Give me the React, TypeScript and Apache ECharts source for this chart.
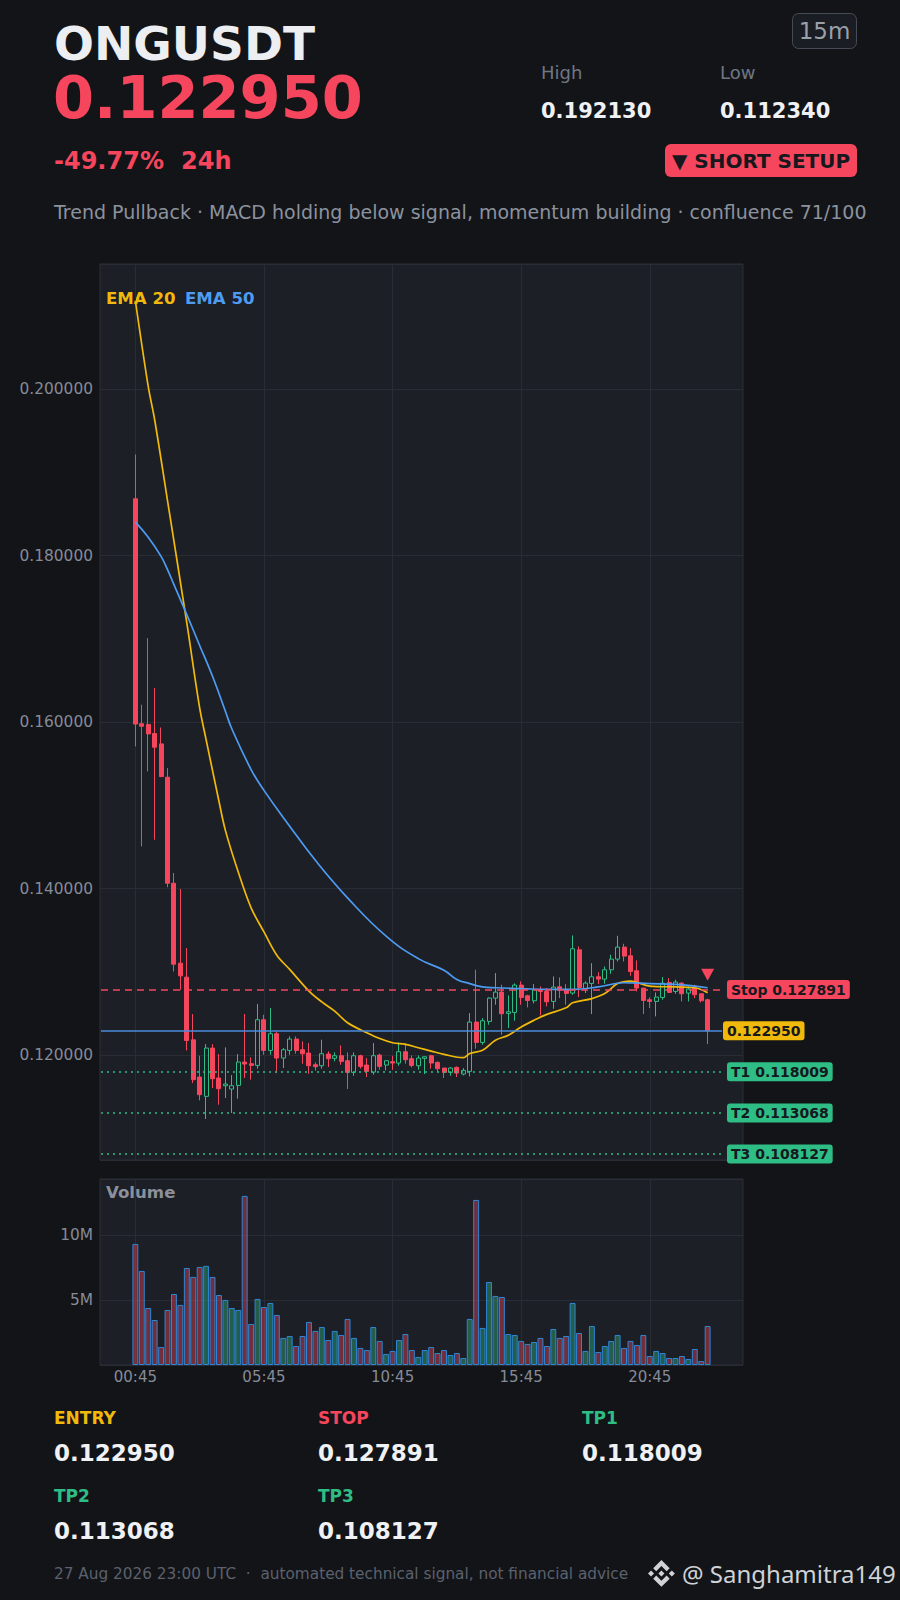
import React, { useEffect, useRef } from 'react';
import * as echarts from 'echarts';

// ---------- data ----------
const SYMBOL = 'ONGUSDT';
const LAST_PRICE = '0.122950';
const CHANGE_24H = '-49.77%';
const HIGH_24H = '0.192130';
const LOW_24H = '0.112340';
const TIMEFRAME = '15m';
const DESCRIPTION = 'Trend Pullback · MACD holding below signal, momentum building · confluence 71/100';

const TIMES = [
  '00:45',
  '01:00', '01:15', '01:30', '01:45', '02:00', '02:15', '02:30', '02:45',
  '03:00', '03:15', '03:30', '03:45', '04:00', '04:15', '04:30', '04:45',
  '05:00', '05:15', '05:30', '05:45', '06:00', '06:15', '06:30', '06:45',
  '07:00', '07:15', '07:30', '07:45', '08:00', '08:15', '08:30', '08:45',
  '09:00', '09:15', '09:30', '09:45', '10:00', '10:15', '10:30', '10:45',
  '11:00', '11:15', '11:30', '11:45', '12:00', '12:15', '12:30', '12:45',
  '13:00', '13:15', '13:30', '13:45', '14:00', '14:15', '14:30', '14:45',
  '15:00', '15:15', '15:30', '15:45', '16:00', '16:15', '16:30', '16:45',
  '17:00', '17:15', '17:30', '17:45', '18:00', '18:15', '18:30', '18:45',
  '19:00', '19:15', '19:30', '19:45', '20:00', '20:15', '20:30', '20:45',
  '21:00', '21:15', '21:30', '21:45', '22:00', '22:15', '22:30', '22:45',
  '23:00',
];

// [open, close, low, high]
const CANDLES: number[][] = [
  [0.18681, 0.15976, 0.15707, 0.19213],
  [0.15980, 0.15950, 0.14507, 0.16208],
  [0.15970, 0.15858, 0.15407, 0.17008],
  [0.15862, 0.15698, 0.14587, 0.16408],
  [0.15738, 0.15346, 0.15338, 0.15935],
  [0.15338, 0.14065, 0.14017, 0.15447],
  [0.14065, 0.13093, 0.13005, 0.14187],
  [0.13105, 0.12953, 0.12786, 0.13995],
  [0.12937, 0.12177, 0.12058, 0.13287],
  [0.12185, 0.11706, 0.11666, 0.12494],
  [0.11738, 0.11526, 0.11458, 0.11994],
  [0.11506, 0.12086, 0.11234, 0.12134],
  [0.12086, 0.11718, 0.11606, 0.12134],
  [0.11726, 0.11598, 0.11406, 0.12014],
  [0.11634, 0.11654, 0.11486, 0.12094],
  [0.11594, 0.11634, 0.11306, 0.11762],
  [0.11638, 0.11918, 0.11478, 0.12014],
  [0.11918, 0.11894, 0.11726, 0.12494],
  [0.11898, 0.11878, 0.11706, 0.11974],
  [0.11878, 0.12426, 0.11838, 0.12614],
  [0.12426, 0.12058, 0.12006, 0.12486],
  [0.12058, 0.12258, 0.12006, 0.12566],
  [0.12258, 0.11966, 0.11786, 0.12286],
  [0.11966, 0.12066, 0.11846, 0.12086],
  [0.12058, 0.12194, 0.12006, 0.12226],
  [0.12194, 0.12058, 0.12018, 0.12226],
  [0.12066, 0.12018, 0.11898, 0.12166],
  [0.12026, 0.11874, 0.11778, 0.12146],
  [0.11886, 0.11862, 0.11814, 0.11914],
  [0.11874, 0.12018, 0.11838, 0.12186],
  [0.12014, 0.11958, 0.11858, 0.12046],
  [0.11962, 0.11994, 0.11926, 0.12034],
  [0.11994, 0.11926, 0.11886, 0.12118],
  [0.11934, 0.11794, 0.11594, 0.12034],
  [0.11794, 0.11994, 0.11754, 0.12034],
  [0.11994, 0.11866, 0.11838, 0.12006],
  [0.11882, 0.11806, 0.11738, 0.11966],
  [0.11798, 0.11994, 0.11766, 0.12146],
  [0.12002, 0.11866, 0.11826, 0.12018],
  [0.11882, 0.11934, 0.11818, 0.11934],
  [0.11922, 0.11906, 0.11826, 0.11994],
  [0.11906, 0.12042, 0.11874, 0.12154],
  [0.12042, 0.11946, 0.11898, 0.12146],
  [0.11958, 0.11878, 0.11854, 0.11998],
  [0.11874, 0.11966, 0.11826, 0.11998],
  [0.11962, 0.11982, 0.11774, 0.11986],
  [0.11994, 0.11906, 0.11838, 0.12006],
  [0.11914, 0.11838, 0.11794, 0.11926],
  [0.11846, 0.11794, 0.11726, 0.11846],
  [0.11794, 0.11846, 0.11754, 0.11858],
  [0.11854, 0.11786, 0.11738, 0.11866],
  [0.11774, 0.11818, 0.11758, 0.11846],
  [0.11806, 0.12398, 0.11746, 0.12506],
  [0.12398, 0.12154, 0.12078, 0.13026],
  [0.12154, 0.12414, 0.12126, 0.12446],
  [0.12406, 0.12686, 0.12366, 0.12694],
  [0.12686, 0.12758, 0.12606, 0.12986],
  [0.12758, 0.12498, 0.12246, 0.12846],
  [0.12502, 0.12522, 0.12326, 0.12718],
  [0.12514, 0.12842, 0.12414, 0.12862],
  [0.12842, 0.12694, 0.12606, 0.12886],
  [0.12714, 0.12658, 0.12574, 0.12726],
  [0.12654, 0.12786, 0.12622, 0.12854],
  [0.12790, 0.12766, 0.12478, 0.12826],
  [0.12766, 0.12642, 0.12586, 0.12806],
  [0.12646, 0.12818, 0.12558, 0.12946],
  [0.12822, 0.12786, 0.12686, 0.12934],
  [0.12782, 0.12742, 0.12606, 0.12854],
  [0.12746, 0.13278, 0.12726, 0.13438],
  [0.13266, 0.12814, 0.12698, 0.13306],
  [0.12798, 0.12866, 0.12746, 0.12886],
  [0.12862, 0.12942, 0.12494, 0.13106],
  [0.12942, 0.12914, 0.12854, 0.12996],
  [0.12914, 0.13026, 0.12858, 0.13066],
  [0.13026, 0.13154, 0.12978, 0.13206],
  [0.13154, 0.13298, 0.13126, 0.13434],
  [0.13298, 0.13190, 0.13126, 0.13338],
  [0.13194, 0.13006, 0.12954, 0.13286],
  [0.13014, 0.12806, 0.12766, 0.13138],
  [0.12806, 0.12658, 0.12494, 0.12806],
  [0.12666, 0.12646, 0.12566, 0.12694],
  [0.12646, 0.12698, 0.12466, 0.12754],
  [0.12694, 0.12866, 0.12666, 0.12938],
  [0.12874, 0.12754, 0.12746, 0.12926],
  [0.12766, 0.12878, 0.12738, 0.12906],
  [0.12866, 0.12738, 0.12646, 0.12874],
  [0.12746, 0.12794, 0.12646, 0.12826],
  [0.12806, 0.12726, 0.12686, 0.12846],
  [0.12738, 0.12654, 0.12634, 0.12738],
  [0.12666, 0.12295, 0.12134, 0.12678],
];

// volume in millions
const VOLUME_M = [
  9.31, 7.23, 4.38, 3.46, 1.38, 4.23, 5.46, 4.62, 7.46, 6.77,
  7.54, 7.62, 6.77, 5.38, 5.0, 4.38, 4.23, 13.0, 3.15, 5.08,
  4.46, 4.77, 3.85, 2.08, 2.23, 1.46, 2.23, 3.31, 2.62, 2.92,
  1.92, 2.62, 2.31, 3.54, 2.08, 1.31, 1.15, 2.92, 1.85, 0.85,
  1.08, 1.92, 2.38, 1.15, 0.62, 1.15, 1.38, 0.92, 1.15, 0.77,
  0.92, 0.54, 3.54, 12.69, 2.85, 6.38, 5.31, 5.23, 2.38, 2.31,
  1.85, 1.62, 1.77, 2.08, 1.46, 2.77, 2.08, 2.23, 4.77, 2.46,
  1.08, 3.0, 1.0, 1.46, 1.85, 2.31, 1.31, 1.85, 1.54, 2.31,
  0.69, 1.08, 0.92, 0.54, 0.54, 0.69, 0.46, 1.23, 0.3, 3.0,
];

// [candle index, value]
const EMA20 = [
  [0, 0.2106], [2, 0.2003], [3, 0.1963], [5, 0.1866], [8, 0.1719], [10, 0.1617],
  [11, 0.1579], [13, 0.1505], [14, 0.1470], [16, 0.1420], [18, 0.1377], [20, 0.1348],
  [22, 0.1320], [24, 0.1303], [27, 0.1277], [29, 0.1264], [31, 0.1253], [33, 0.1239],
  [36, 0.1227], [38, 0.1220], [40, 0.1215], [42, 0.1213], [44, 0.1209], [46, 0.1205],
  [48, 0.1201], [51, 0.1197], [52, 0.1202], [54, 0.1206], [56, 0.1218], [58, 0.1224],
  [60, 0.1234], [62, 0.1242], [64, 0.1249], [67, 0.1257], [68, 0.1263], [71, 0.1268],
  [73, 0.1274], [75, 0.1286], [77, 0.1289], [80, 0.1283], [84, 0.1282], [87, 0.1281],
  [89, 0.1275],
];
const EMA50 = [
  [0, 0.1840], [2, 0.1822], [4, 0.1799], [5, 0.1783], [6, 0.1765], [8, 0.1729],
  [10, 0.1692], [12, 0.1655], [14, 0.1613], [15, 0.1592], [18, 0.1543], [20, 0.1518],
  [24, 0.1475], [28, 0.1434], [33, 0.1389], [39, 0.1343], [44, 0.1316], [48, 0.1302],
  [50, 0.1291], [52, 0.1286], [54, 0.1282], [56, 0.1281], [60, 0.1280], [64, 0.1279],
  [68, 0.1279], [72, 0.1282], [76, 0.1287], [80, 0.1286], [84, 0.1285], [89, 0.1281],
];

const ENTRY = 0.12295;
const STOP = 0.127891;
const TP1 = 0.118009;
const TP2 = 0.113068;
const TP3 = 0.108127;

const PRICE_MIN = 0.10742;
const PRICE_MAX = 0.215;
const VOLUME_MAX_M = 14.3;

const FOOTER = '27 Aug 2026 23:00 UTC  ·  automated technical signal, not financial advice';
const HANDLE = '@ Sanghamitra149';

// ---------- style ----------
const FONT = "'DejaVu Sans', sans-serif";
const BG = '#131418';
const PLOT_BG = '#1c1f26';
const GRID_LINE = '#282c35';
const RED = '#f6465d';
const GREEN = '#2ebd85';
const YELLOW = '#f0b90b';
const BLUE = '#4d9cf2';
const ENTRY_BLUE = '#4b8ddd';
const AXIS_TEXT = '#858b97';
const WHITE = '#f0f1f4';
const DARK_TEXT = '#16181d';

const PAD = 5;

const BINANCE_D =
  'M16.624 13.9202l2.7175 2.7154-7.353 7.353-7.353-7.352 2.7175-2.7164 4.6355 4.6595 4.6356-4.6595zm4.6366-4.6366L24 12l-2.7154 2.7164L18.5682 12l2.6924-2.7164zm-9.272.001l2.7163 2.6914-2.7164 2.7174v-.001L9.2721 12l2.7164-2.7154zm-9.2722-.001L5.4088 12l-2.6914 2.6924L0 12l2.7164-2.7164zM11.9885.0115l7.353 7.329-2.7174 2.7154-4.6356-4.6356-4.6355 4.6595-2.7174-2.7154 7.353-7.353z';
echarts.graphic.registerShape('binanceLogo', echarts.graphic.extendPath(BINANCE_D, {}));

function txt(
  text: string, x: number, y: number, size: number, fill: string,
  bold = false, align = 'left', family = FONT, lineHeight?: number,
) {
  const style: any = {
    text,
    fill,
    fontSize: size,
    fontWeight: bold ? 'bold' : 'normal',
    fontFamily: family,
    align,
    verticalAlign: 'middle',
  };
  if (lineHeight) style.lineHeight = lineHeight;
  return { type: 'text', x, y, silent: true, style };
}

function levelLine(value: number, label: string, lineColor: string, type: any, bg: string, distance: number) {
  return [
    {
      coord: [0, value],
      x: 101,
      lineStyle: { color: lineColor, type, width: 1.6 },
      label: {
        show: true,
        position: 'end',
        formatter: label,
        distance,
        backgroundColor: bg,
        color: DARK_TEXT,
        fontWeight: 'bold',
        fontSize: 14,
        fontFamily: FONT,
        padding: [3, 4, 2, 4],
        borderRadius: 3,
      },
    },
    { coord: [0, value], x: 722 },
  ];
}

function buildOption() {
  const pad = Array(PAD).fill('');
  const categories = [...pad, ...TIMES, ...pad];
  const empty = ['-', '-', '-', '-'];
  const candleData = [...Array(PAD).fill(empty), ...CANDLES];
  const volData = [
    ...Array(PAD).fill('-'),
    ...VOLUME_M.map((v, i) => {
      const up = CANDLES[i][1] >= CANDLES[i][0];
      return {
        value: v * 1e6,
        itemStyle: { color: up ? 'rgba(46,189,133,0.40)' : 'rgba(246,70,93,0.40)' },
      };
    }),
  ];
  const lastIdx = PAD + CANDLES.length - 1;
  const last = CANDLES[CANDLES.length - 1];
  const labelEvery = (i: number) => i >= PAD && (i - PAD) % 20 === 0;

  const statCols = [54, 318, 582];
  const stats = [
    { label: 'ENTRY', color: YELLOW, value: ENTRY.toFixed(6), col: 0, row: 0 },
    { label: 'STOP', color: RED, value: STOP.toFixed(6), col: 1, row: 0 },
    { label: 'TP1', color: GREEN, value: TP1.toFixed(6), col: 2, row: 0 },
    { label: 'TP2', color: GREEN, value: TP2.toFixed(6), col: 0, row: 1 },
    { label: 'TP3', color: GREEN, value: TP3.toFixed(6), col: 1, row: 1 },
  ];
  const statGraphics: any[] = [];
  stats.forEach((s) => {
    const y0 = s.row === 0 ? 1418 : 1496;
    statGraphics.push(txt(s.label, statCols[s.col], y0, 17, s.color, true));
    statGraphics.push(txt(s.value, statCols[s.col], y0 + 35, 23, WHITE, true));
  });

  const xAxisCommon = {
    type: 'category',
    data: categories,
    boundaryGap: true,
    axisLine: { show: false },
    axisTick: { show: false },
    splitLine: {
      show: true,
      interval: labelEvery,
      alignWithLabel: true,
      lineStyle: { color: GRID_LINE, width: 1 },
    },
  };

  return {
    animation: false,
    backgroundColor: BG,
    textStyle: { fontFamily: FONT },
    grid: [
      {
        left: 100, top: 264, width: 643, height: 896,
        show: true, backgroundColor: PLOT_BG, borderColor: '#2a2e37', borderWidth: 1,
      },
      {
        left: 100, top: 1179, width: 643, height: 186,
        show: true, backgroundColor: PLOT_BG, borderColor: '#2a2e37', borderWidth: 1,
      },
    ],
    xAxis: [
      { ...xAxisCommon, gridIndex: 0, axisLabel: { show: false } },
      {
        ...xAxisCommon,
        gridIndex: 1,
        axisLabel: {
          show: true,
          interval: labelEvery,
          color: AXIS_TEXT,
          fontSize: 15,
          fontFamily: FONT,
          margin: 4,
        },
      },
    ],
    yAxis: [
      {
        type: 'value',
        gridIndex: 0,
        min: PRICE_MIN,
        max: PRICE_MAX,
        splitNumber: 5,
        axisLine: { show: false },
        axisTick: { show: false },
        axisLabel: {
          color: AXIS_TEXT,
          fontSize: 15.4,
          fontFamily: FONT,
          margin: 7,
          showMinLabel: false,
          showMaxLabel: false,
          formatter: (v: number) => v.toFixed(6),
        },
        splitLine: { show: true, lineStyle: { color: GRID_LINE, width: 1 } },
      },
      {
        type: 'value',
        gridIndex: 1,
        min: 0,
        max: VOLUME_MAX_M * 1e6,
        interval: 5e6,
        axisLine: { show: false },
        axisTick: { show: false },
        axisLabel: {
          color: AXIS_TEXT,
          fontSize: 15.4,
          fontFamily: FONT,
          margin: 7,
          showMinLabel: false,
          showMaxLabel: false,
          formatter: (v: number) => (v === 0 ? '' : `${Math.round(v / 1e6)}M`),
        },
        splitLine: { show: true, lineStyle: { color: GRID_LINE, width: 1 } },
      },
    ],
    series: [
      {
        type: 'candlestick',
        xAxisIndex: 0,
        yAxisIndex: 0,
        data: candleData,
        barWidth: 4.5,
        itemStyle: {
          color: 'transparent',
          color0: RED,
          borderColor: GREEN,
          borderColor0: RED,
          borderWidth: 1,
        },
        markLine: {
          silent: true,
          symbol: ['none', 'none'],
          animation: false,
          data: [
            levelLine(STOP, `Stop ${STOP.toFixed(6)}`, RED, [7, 5], RED, 5),
            levelLine(ENTRY, ENTRY.toFixed(6), ENTRY_BLUE, 'solid', YELLOW, 1),
            levelLine(TP1, `T1 ${TP1.toFixed(6)}`, GREEN, [2, 4], GREEN, 5),
            levelLine(TP2, `T2 ${TP2.toFixed(6)}`, GREEN, [2, 4], GREEN, 5),
            levelLine(TP3, `T3 ${TP3.toFixed(6)}`, GREEN, [2, 4], GREEN, 5),
          ],
        },
        markPoint: {
          silent: true,
          animation: false,
          data: [
            {
              coord: [lastIdx, last[3]],
              symbol: 'triangle',
              symbolRotate: 180,
              symbolSize: [13, 12],
              symbolOffset: [0, -24],
              itemStyle: { color: RED },
              label: { show: false },
            },
          ],
        },
      },
      {
        name: 'EMA 20',
        type: 'line',
        xAxisIndex: 0,
        yAxisIndex: 0,
        data: EMA20.map(([i, v]) => [i + PAD, v]),
        symbol: 'none',
        smooth: 0.35,
        lineStyle: { color: YELLOW, width: 1.7 },
        silent: true,
      },
      {
        name: 'EMA 50',
        type: 'line',
        xAxisIndex: 0,
        yAxisIndex: 0,
        data: EMA50.map(([i, v]) => [i + PAD, v]),
        symbol: 'none',
        smooth: 0.45,
        lineStyle: { color: BLUE, width: 1.7 },
        silent: true,
      },
      {
        name: 'Volume',
        type: 'bar',
        xAxisIndex: 1,
        yAxisIndex: 1,
        data: volData,
        barCategoryGap: '8%',
        itemStyle: { borderColor: '#2f86d6', borderWidth: 1 },
        silent: true,
      },
    ],
    graphic: [
      txt(SYMBOL, 54, 43, 47, '#eceef2', true, 'left', FONT, 38),
      txt(LAST_PRICE, 53, 97, 59, RED, true, 'left', FONT, 46),
      txt(CHANGE_24H, 54, 161, 24, RED, true),
      txt('24h', 181, 161, 24, RED, true),
      txt(DESCRIPTION, 54, 212, 19, '#8b929e'),
      {
        type: 'rect',
        silent: true,
        shape: { x: 792.5, y: 13.5, width: 64, height: 35, r: 6 },
        style: { fill: '#1a1d23', stroke: '#464b56', lineWidth: 1 },
      },
      txt(TIMEFRAME, 824.5, 31, 23, '#9aa0aa', false, 'center'),
      txt('High', 541, 72, 18, '#6f7682'),
      txt('Low', 720, 72, 18, '#6f7682'),
      txt(HIGH_24H, 541, 111, 21, WHITE, true),
      txt(LOW_24H, 720, 111, 21, WHITE, true),
      {
        type: 'rect',
        silent: true,
        shape: { x: 665, y: 144, width: 192, height: 33, r: 6 },
        style: { fill: RED },
      },
      txt('▼ SHORT SETUP', 761, 161, 20, DARK_TEXT, true, 'center'),
      txt('EMA 20', 106, 298, 16.6, YELLOW, true),
      txt('EMA 50', 185, 298, 16.6, BLUE, true),
      txt('Volume', 106, 1192, 16.6, '#8b909a', true),
      ...statGraphics,
      txt(FOOTER, 54, 1574, 15.3, '#5b616d'),
      {
        type: 'binanceLogo',
        x: 648,
        y: 1560,
        scaleX: 1.12,
        scaleY: 1.12,
        silent: true,
        style: { fill: '#cfd2d6' },
      },
      txt(HANDLE, 682, 1573, 24, '#cfd2d6', false, 'left', "'Noto Sans', sans-serif"),
    ],
  };
}

export default function App() {
  const ref = useRef<HTMLDivElement>(null);
  useEffect(() => {
    if (!ref.current) return;
    const chart = echarts.init(ref.current, null, { renderer: 'svg', width: 900, height: 1600 });
    chart.setOption(buildOption() as any);
    return () => chart.dispose();
  }, []);
  return (
    <div style={{ position: 'absolute', left: 0, top: 0, width: 900, height: 1600, background: BG }}>
      <div ref={ref} style={{ width: 900, height: 1600 }} />
    </div>
  );
}
